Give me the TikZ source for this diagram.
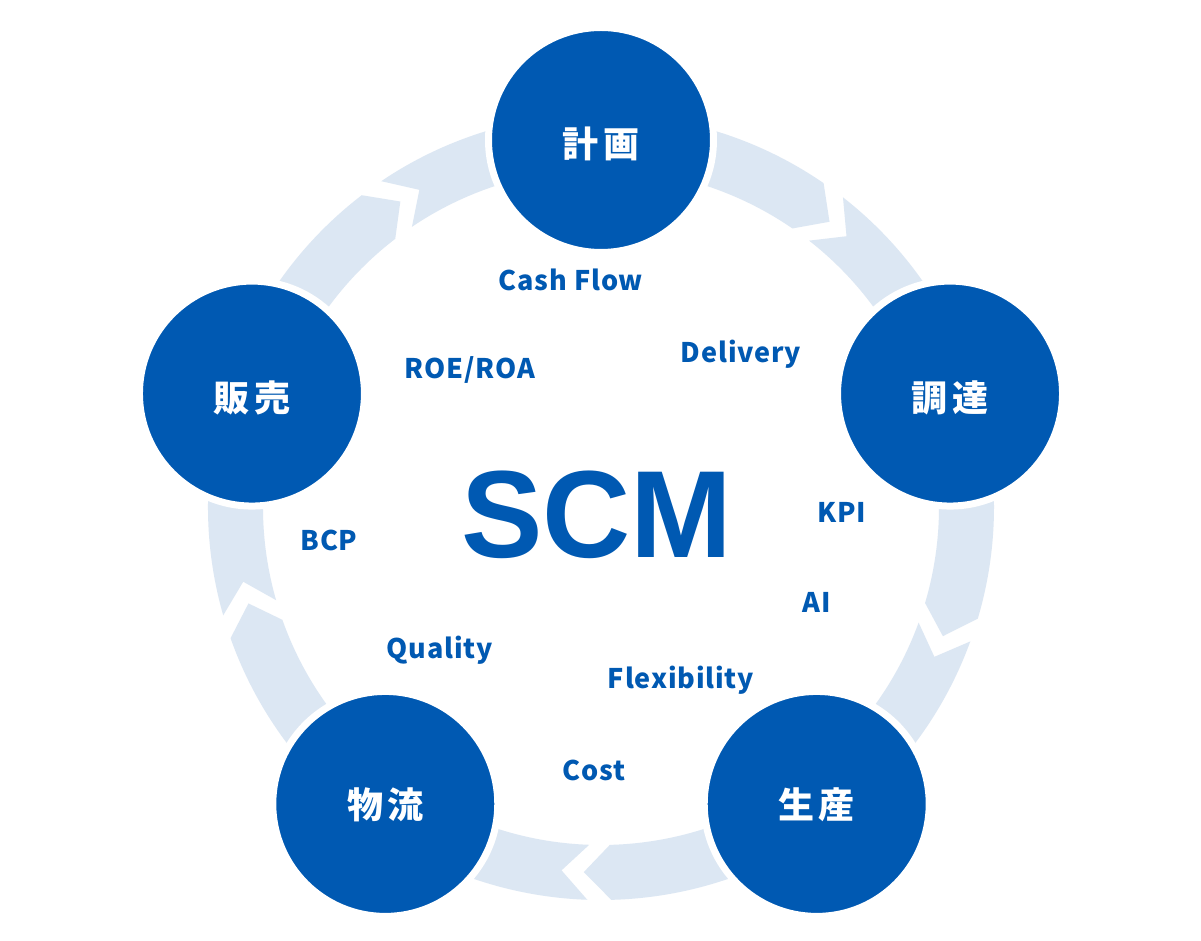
\documentclass[tikz,border=0pt]{standalone}
\usepackage{fontspec}
\newfontfamily\jpfont{Noto Sans CJK JP}
\newfontfamily\scmfont{Liberation Sans}
\definecolor{scmblue}{HTML}{0059B2}
\definecolor{ringblue}{HTML}{DCE7F3}
\tikzset{
  hub/.style={circle, fill=scmblue, draw=white, line width=7pt, minimum size=225pt, inner sep=0pt},
  hubtxt/.style={text=white, inner sep=0pt, font=\jpfont\bfseries\fontsize{36}{40}\selectfont\addfontfeatures{LetterSpace=12}},
  kw/.style={text=scmblue, font=\jpfont\bfseries\fontsize{27}{30}\selectfont\addfontfeatures{LetterSpace=3}, inner sep=0pt},
  band/.style={fill=ringblue, draw=none}
}
\newcommand{\ringarrow}[1]{%
  \pgfmathsetmacro{\aa}{#1+36-2}%
  \pgfmathsetmacro{\an}{#1+36-6.2}%
  \pgfmathsetmacro{\ab}{#1-36+1.5}%
  \pgfmathsetmacro{\at}{#1-36-2.7}%
  \fill[band] (\aa:393) arc[start angle=\aa, end angle=\ab, radius=393]
    -- (\at:365.5) -- (\ab:338) arc[start angle=\ab, end angle=\aa, radius=338]
    -- (\an:365.5) -- cycle;%
}
\begin{document}
\begin{tikzpicture}[x=1pt,y=1pt]
\useasboundingbox[fill=white] (-601,-434) rectangle (600,507);
\ringarrow{90}
\ringarrow{18}
\ringarrow{-54}
\ringarrow{-126}
\ringarrow{162}
\node[hub] (keikaku) at (90:367) {};
\node[hub] (chotatsu) at (18:367) {};
\node[hub] (seisan) at (-54:367) {};
\node[hub] (butsuryu) at (-126:367) {};
\node[hub] (hanbai) at (162:367) {};
\node[hubtxt] (t1) at ([yshift=-4pt]keikaku.center) {計画};
\node[hubtxt] (t2) at ([yshift=-4pt]chotatsu.center) {調達};
\node[hubtxt] (t3) at ([yshift=-1pt]seisan.center) {生産};
\node[hubtxt] (t4) at ([yshift=-1pt]butsuryu.center) {物流};
\node[hubtxt] (t5) at ([yshift=-4pt]hanbai.center) {販売};
\node[text=scmblue, font=\scmfont\bfseries\fontsize{124}{130}\selectfont, inner sep=0pt, xscale=0.985, transform shape] (scm) at (-4,-8) {SCM};
\node[kw] (cf) at (-30,227) {Cash Flow};
\node[kw] (del) at (140,153) {Delivery};
\node[kw] (roe) at (-131,137) {ROE/ROA};
\node[kw] (kpi) at (241,-5) {KPI};
\node[kw] (ai) at (216,-95) {AI};
\node[kw] (flex) at (80,-173) {Flexibility};
\node[kw] (qual) at (-161,-143) {Quality};
\node[kw] (bcp) at (-272,-33) {BCP};
\node[kw] (cost) at (-7,-263) {Cost};
\end{tikzpicture}
\end{document}
